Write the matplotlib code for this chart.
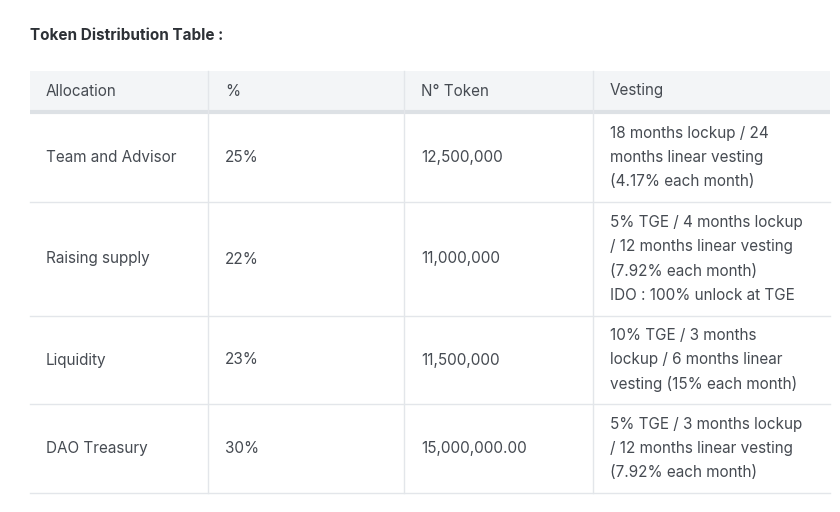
import matplotlib
matplotlib.use("Agg")
import matplotlib.pyplot as plt
from matplotlib.patches import Rectangle

title = "Token Distribution Table :"
headers = ["Allocation", "%", "N° Token", "Vesting"]
allocation = ["Team and Advisor", "Raising supply", "Liquidity", "DAO Treasury"]
percent = ["25%", "22%", "23%", "30%"]
tokens = ["12,500,000", "11,000,000", "11,500,000", "15,000,000.00"]
vesting = [
    "18 months lockup / 24\nmonths linear vesting\n(4.17% each month)",
    "5% TGE / 4 months lockup\n/ 12 months linear vesting\n(7.92% each month)\nIDO : 100% unlock at TGE",
    "10% TGE / 3 months\nlockup / 6 months linear\nvesting (15% each month)",
    "5% TGE / 3 months lockup\n/ 12 months linear vesting\n(7.92% each month)",
]

plt.rcParams['font.family'] = ['Inter', 'DejaVu Sans']
fig = plt.figure(figsize=(8.4, 5.12), dpi=100)
ax = fig.add_axes([0, 0, 1, 1])
ax.set_xlim(0, 840); ax.set_ylim(512, 0); ax.axis('off')

tc = '#464b52'; lc = '#e3e6ea'
ax.text(30, 35, title, fontsize=11, fontweight='bold', color='#2d3136', va='center')
ax.add_patch(Rectangle((30, 71), 800, 40, color='#f3f5f7', lw=0))
ax.plot([30, 830], [112, 112], color='#dde1e5', lw=3, solid_capstyle='butt')
colx = [30, 208, 404, 593, 830]
textx = [46, 225, 421, 610]
rows = [113, 202, 316, 404, 493]
for x in colx[1:-1]:
    ax.plot([x, x], [71, 493], color=lc, lw=1)
for y in rows[1:]:
    ax.plot([30, 830], [y, y], color=lc, lw=1)
for x, h in zip(textx, headers):
    ax.text(x, 91, h, fontsize=11, color=tc, va='center')
for i in range(4):
    yc = (rows[i] + rows[i+1]) / 2
    for x, v in zip(textx[:3], [allocation[i], percent[i], tokens[i]]):
        ax.text(x, yc, v, fontsize=11, color=tc, va='center')
    ax.text(textx[3], yc, vesting[i], fontsize=11, color=tc, va='center', linespacing=1.75)
fig.savefig("out.png", dpi=100)
